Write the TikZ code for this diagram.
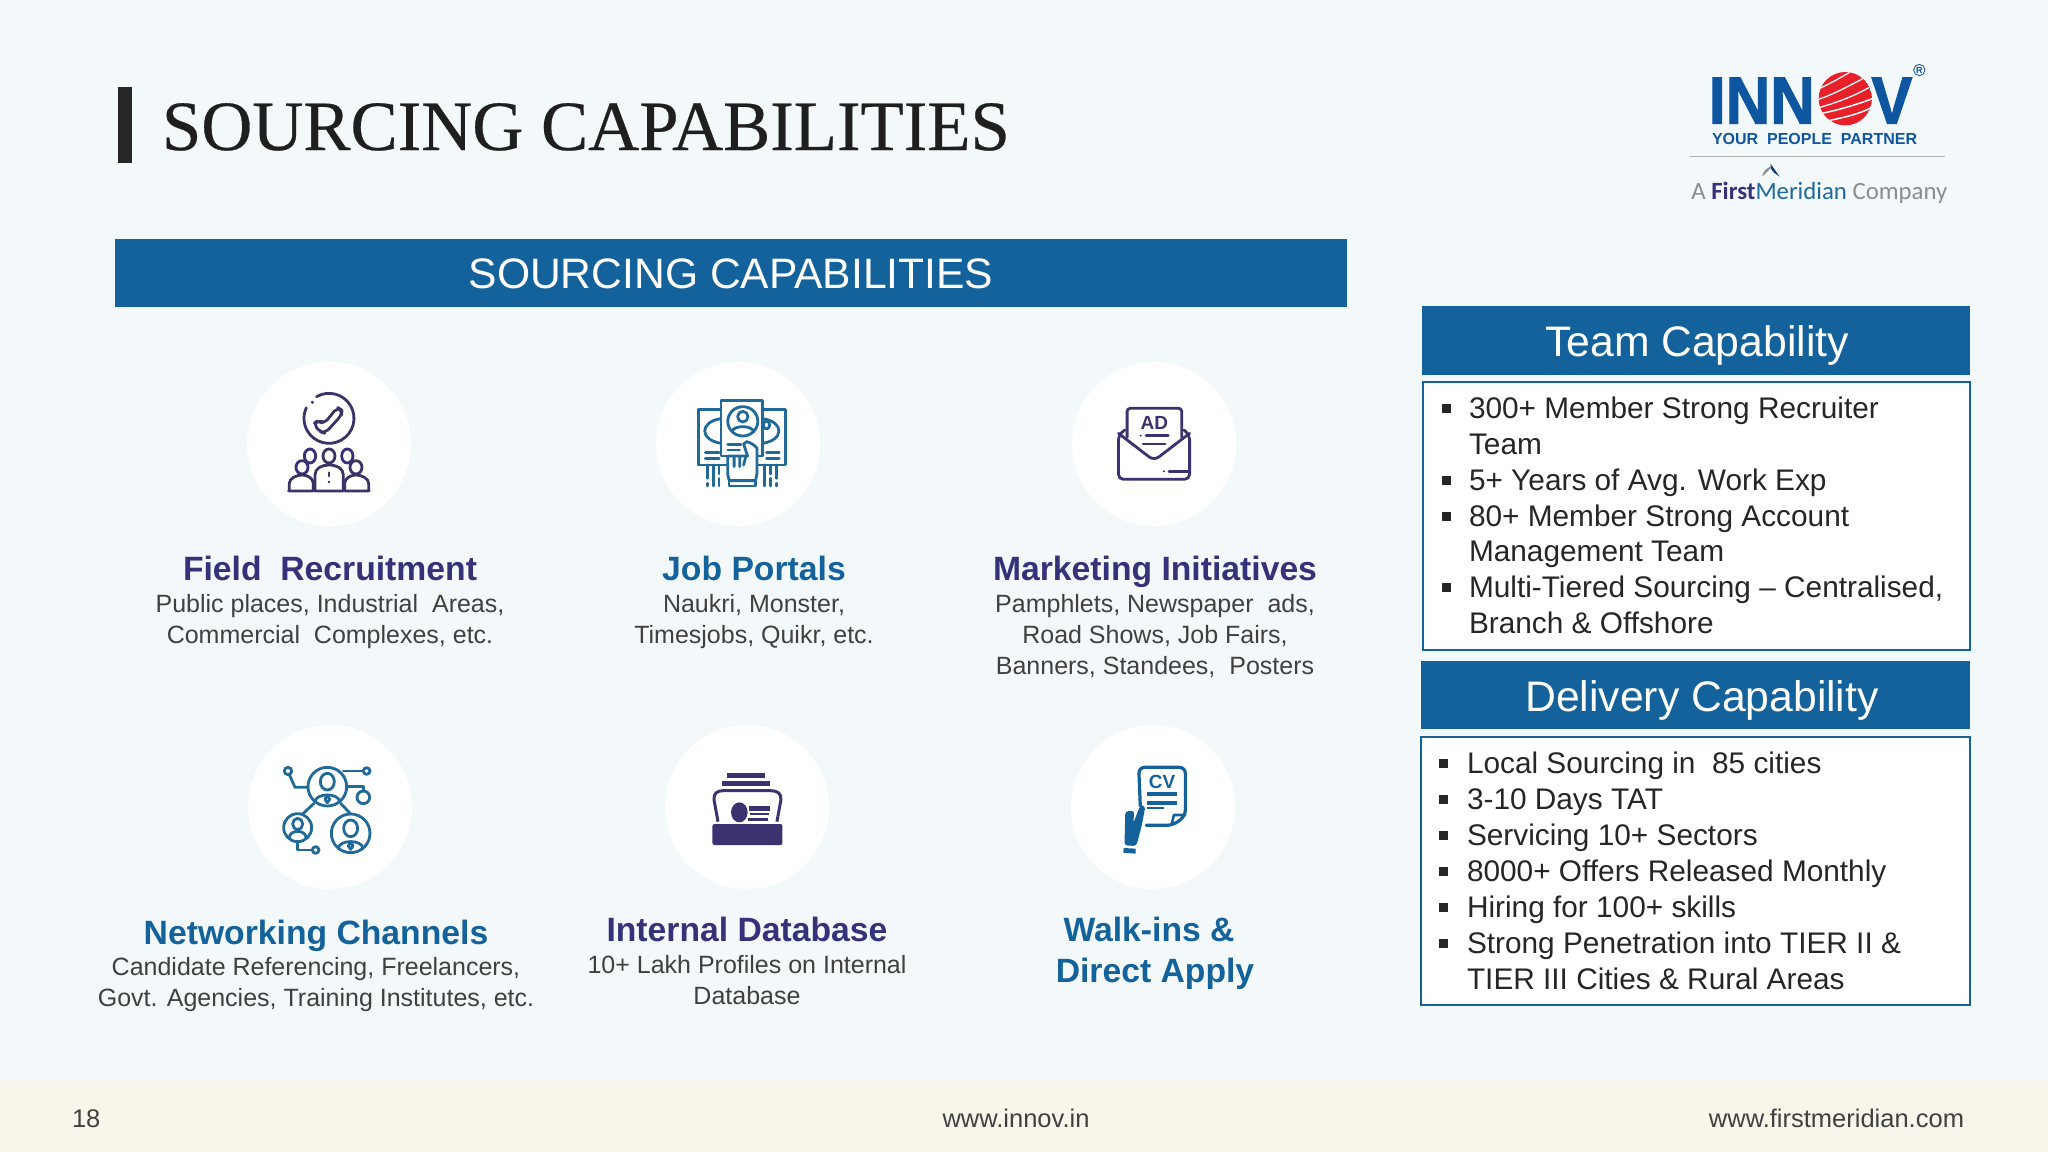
\documentclass[tikz,border=0pt]{standalone}
\usepackage{fontspec}
\setmainfont{Liberation Sans}
\newfontfamily\serifface[FakeBold=0.4]{Liberation Serif}
\newfontfamily\logoface{Carlito}
\newfontfamily\logofat[UprightFont={* Bold},UprightFeatures={FakeBold=1.5,FakeStretch=0.92}]{Liberation Sans}
\definecolor{bgc}{HTML}{F3F8FB}
\definecolor{footc}{HTML}{F8F5EA}
\definecolor{barc}{HTML}{14629B}
\definecolor{navyc}{HTML}{36327A}
\definecolor{inkc}{HTML}{3A3466}
\definecolor{bluec}{HTML}{1F6A99}
\definecolor{deskc}{HTML}{3D3270}
\definecolor{txtc}{HTML}{404040}
\definecolor{logob}{HTML}{0F56A0}
\definecolor{logor}{HTML}{E8202A}
\newcommand{\fs}[1]{\fontsize{#1}{#1}\selectfont}
\tikzset{
  txt/.style={inner sep=0pt,outer sep=0pt,anchor=base},
  ttl/.style={txt,font=\fs{33.7}\bfseries},
  dsc/.style={txt,font=\fs{25},text=txtc},
  itm/.style={txt,anchor=base west,font=\fs{29.8},text=black!85},
  bar/.style={fill=barc,draw=none},
  boxed/.style={draw=barc,line width=1.4pt,fill=white},
  disc/.style={fill=white,draw=none},
  bul/.style={fill=black!85,draw=none},
  ic/.style={line width=2.8pt,line cap=round,line join=round},
}
\newcommand{\bult}[2]{\fill[bul] (#1-4.5,#2-4.5) rectangle (#1+4.5,#2+4.5);}
\begin{document}
\begin{tikzpicture}[x=1pt,y=-1pt]
\useasboundingbox (0,0) rectangle (2048,1152);
\fill[bgc] (0,0) rectangle (2048,1152);
\fill[footc] (0,1079) rectangle (2048,1152);
% title
\fill[black!85] (118,87) rectangle (132,163);
\node[txt,anchor=base west,font=\serifface\fs{70.7},text=black!88] (maintitle) at (162,150) {SOURCING CAPABILITIES};
% header bar
\fill[bar] (115,239) rectangle (1347,307);
\node[txt,font=\fs{42.6},text=white] (hdr) at (731,288) {SOURCING CAPABILITIES};
% discs
\foreach \cx/\cy in {329/444,738/444,1154/444,330/807,747/807,1153/807}
  \fill[disc] (\cx,\cy) circle[radius=82];
% category text
\node[ttl,text=navyc] (t1) at (330,580) {Field\ \ Recruitment};
\node[dsc] (d1a) at (330,612) {Public places, Industrial\ \ Areas,};
\node[dsc] (d1b) at (330,643) {Commercial\ \ Complexes, etc.};
\node[ttl,text=barc] (t2) at (754,580) {Job Portals};
\node[dsc] (d2a) at (754,612) {Naukri, Monster,};
\node[dsc] (d2b) at (754,643) {Timesjobs, Quikr, etc.};
\node[ttl,text=navyc] (t3) at (1155,580) {Marketing Initiatives};
\node[dsc] (d3a) at (1155,612) {Pamphlets, Newspaper\ \ ads,};
\node[dsc] (d3b) at (1155,643) {Road Shows, Job Fairs,};
\node[dsc] (d3c) at (1155,674) {Banners, Standees,\ \ Posters};
\node[ttl,text=barc] (t4) at (316,944) {Networking Channels};
\node[dsc] (d4a) at (316,975) {Candidate Referencing, Freelancers,};
\node[dsc] (d4b) at (316,1006) {Govt. Agencies, Training Institutes, etc.};
\node[ttl,text=navyc] (t5) at (747,941) {Internal Database};
\node[dsc] (d5a) at (747,973) {10+ Lakh Profiles on Internal};
\node[dsc] (d5b) at (747,1004) {Database};
\node[ttl,text=barc] (t6a) at (1149,941) {Walk-ins \&};
\node[ttl,text=barc] (t6b) at (1155,982) {Direct Apply};
% right panels
\fill[bar] (1422,306) rectangle (1970,375);
\node[txt,font=\fs{42.7},text=white] (teamh) at (1697,356) {Team Capability};
\draw[boxed] (1423,382) rectangle (1970,650);
\fill[bar] (1421,661) rectangle (1970,729);
\node[txt,font=\fs{42.7},text=white] (delh) at (1702,711) {Delivery Capability};
\draw[boxed] (1421,737) rectangle (1970,1005);
\bult{1446}{408}\bult{1446}{480}\bult{1446}{516}\bult{1446}{587}
\node[itm] (a1) at (1469,418) {300+ Member Strong Recruiter};
\node[itm] (a2) at (1469,454) {Team};
\node[itm] (a3) at (1469,490) {5+ Years of Avg. Work Exp};
\node[itm] (a4) at (1469,526) {80+ Member Strong Account};
\node[itm] (a5) at (1469,561) {Management Team};
\node[itm] (a6) at (1469,597) {Multi-Tiered Sourcing – Centralised,};
\node[itm] (a7) at (1469,633) {Branch \& Offshore};
\bult{1443}{763}\bult{1443}{799}\bult{1443}{835}\bult{1443}{871}\bult{1443}{907}\bult{1443}{943}
\node[itm] (b1) at (1467,773) {Local Sourcing in\ \ 85 cities};
\node[itm] (b2) at (1467,809) {3-10 Days TAT};
\node[itm] (b3) at (1467,845) {Servicing 10+ Sectors};
\node[itm] (b4) at (1467,881) {8000+ Offers Released Monthly};
\node[itm] (b5) at (1467,917) {Hiring for 100+ skills};
\node[itm] (b6) at (1467,953) {Strong Penetration into TIER II \&};
\node[itm] (b7) at (1467,989) {TIER III Cities \& Rural Areas};
% footer
\node[txt,anchor=base west,font=\fs{25.5},text=txtc] (pg) at (72,1127) {18};
\node[txt,font=\fs{25.5},text=txtc] (f1) at (1016,1127) {www.innov.in};
\node[txt,anchor=base east,font=\fs{25.5},text=txtc] (f2) at (1964,1127) {www.firstmeridian.com};
% logo (zoom coordinates)
\begin{scope}[shift={(1650,40)},x=.3333pt,y=-.3333pt]
  \node[txt,anchor=base west,text=logob,font=\logofat\fs{67}] (inn) at (176,251) {INN};
  \node[txt,anchor=base west,text=logob,font=\logofat\fs{67}] (vv) at (664,251) {V};
  \begin{scope}
    \clip (586,176) circle[radius=80];
    \fill[logor] (586,176) circle[radius=80];
    \draw[white,line width=1.3pt] (500,150) .. controls (540,130) and (570,115) .. (610,90);
    \draw[white,line width=1.3pt] (500,180) .. controls (560,160) and (610,130) .. (650,110);
    \draw[white,line width=1.3pt] (500,205) .. controls (570,185) and (620,165) .. (670,135);
    \draw[white,line width=1.5pt] (505,222) .. controls (570,210) and (630,190) .. (670,175);
    \draw[white,line width=1.5pt] (520,245) .. controls (570,235) and (620,225) .. (660,205);
  \end{scope}
  \draw[logob,line width=.8pt] (808,90) circle[radius=17];
  \node[txt,anchor=center,text=logob,font=\fs{9}\bfseries] (reg) at (808,90) {R};
  \node[txt,anchor=base west,text=logob,font=\fs{16}\bfseries] (tag) at (186,314) {YOUR\ \ PEOPLE\ \ PARTNER};
  \draw[black!30,line width=1pt] (120,350) -- (885,350);
  \fill[logob!70!black] (362,372) -- (389,410) -- (372,398) -- (362,385) -- cycle;
  \fill[black!45] (362,385) -- (336,410) .. controls (340,392) and (350,385) .. (362,380) -- cycle;
  \node[txt,anchor=base west,font=\logoface\fs{24.8}] (fm) at (124,478)
    {\textcolor{black!45}{A} \textcolor{navyc}{\bfseries First}\textcolor{bluec}{Meridian} \textcolor{black!45}{Company}};
\end{scope}
% field icon
\begin{scope}[shift={(230,350)},x=.3333pt,y=-.3333pt,ic,draw=inkc]
  \draw (297,205) ++(240:75) arc[start angle=240,end angle=565,radius=75];
  \fill[inkc] (247,157) circle[radius=5];
  \draw[rounded corners=5pt] (250,222) -- (265,210) -- (282,222) -- (322,172) -- (336,180) -- (335,195) -- (285,250) -- (270,245) -- cycle;
  \draw[navyc,fill=white] (240,318) ellipse[x radius=17,y radius=21];
  \draw[navyc,fill=white] (352,318) ellipse[x radius=17,y radius=21];
  \draw[navyc,fill=white] (216,352) ellipse[x radius=18,y radius=20];
  \draw[fill=white] (378,352) ellipse[x radius=18,y radius=20];
  \draw[fill=white] (178,423) -- (178,400) .. controls (178,385) and (200,375) .. (216,375) .. controls (232,375) and (250,385) .. (250,400) -- (250,423) -- cycle;
  \draw[fill=white] (344,423) -- (344,400) .. controls (344,385) and (362,375) .. (378,375) .. controls (394,375) and (416,385) .. (416,400) -- (416,423) -- cycle;
  \draw[fill=white] (297,318) ellipse[x radius=18,y radius=21];
  \draw[fill=white] (255,423) -- (255,375) .. controls (255,355) and (275,345) .. (297,345) .. controls (320,345) and (340,355) .. (340,375) -- (340,423) -- cycle;
  \draw (175,423) -- (418,423);
  \draw (297,368) -- (297,378);
  \fill[inkc] (297,396) circle[radius=4];
\end{scope}
% job portals icon
\begin{scope}[shift={(640,350)},x=.3954pt,y=-.3333pt,ic,draw=bluec]
  \draw[line cap=butt] (147,345) -- (147,178) -- (205,178);
  \draw[line cap=butt] (367,345) -- (367,178) -- (310,178);
  \draw (147,345) -- (222,345);
  \draw (296,345) -- (367,345);
  \draw (205,206) .. controls (150,215) and (150,270) .. (205,280);
  \draw (310,206) .. controls (365,215) and (365,270) .. (310,280);
  \draw (320,225) ellipse[x radius=8,y radius=12];
  \draw (165,308) -- (200,308) (165,325) -- (200,325);
  \draw (320,308) -- (352,308) (320,325) -- (352,325);
  \draw[fill=white] (205,152) rectangle (310,318);
  \draw (260,214) ellipse[x radius=38,y radius=44];
  \draw (260,200) ellipse[x radius=13,y radius=16];
  \draw (233,245) .. controls (235,225) and (285,225) .. (287,245);
  \draw (222,283) -- (255,283) (222,300) -- (252,300);
  \draw[fill=white] (222,318) -- (222,375) -- (226,392) -- (292,392) -- (296,370) -- (296,295) .. controls (290,285) and (280,278) .. (270,275) -- (262,282) -- (272,318) -- cycle;
  \draw (238,322) -- (238,350) (252,322) -- (252,350) (267,322) -- (262,345);
  \draw (225,392) rectangle (292,408);
  \draw (170,345) -- (170,385) (170,400) -- (170,408);
  \draw (185,345) -- (185,408);
  \draw (200,345) -- (200,372) (200,385) -- (200,408);
  \draw (315,345) -- (315,408);
  \draw (330,345) -- (330,372) (330,385) -- (330,408);
  \draw (345,345) -- (345,385) (345,400) -- (345,408);
\end{scope}
% marketing icon
\begin{scope}[shift={(640,350)},x=.3954pt,y=-.3333pt,ic,draw=deskc]
  \draw[rounded corners=3pt] (1232,262) -- (1232,175) -- (1370,175) -- (1370,262);
  \draw[rounded corners=5pt] (1226,240) -- (1210,256) -- (1210,388) -- (1390,388) -- (1390,256) -- (1376,240);
  \draw[rounded corners=6pt] (1210,250) -- (1300,332) -- (1390,250);
  \node[txt,anchor=center,text=deskc,font=\fs{19}\bfseries] (adt) at (1301,220) {AD};
  \draw (1280,257) -- (1336,257) (1272,282) -- (1328,282) (1338,364) -- (1385,364);
  \fill[deskc] (1266,257) circle[radius=3] (1325,364) circle[radius=3];
\end{scope}
% networking icon
\begin{scope}[shift={(230,720)},x=.3333pt,y=-.3333pt,ic,draw=bluec]
  \draw (292,200) circle[radius=58];
  \draw (203,323) circle[radius=42];
  \draw (362,340) circle[radius=58];
  \draw (174,153) circle[radius=11];
  \draw (410,153) circle[radius=10];
  \draw (400,232) circle[radius=19];
  \draw (257,390) circle[radius=10];
  \draw (178,164) -- (195,202) -- (234,202);
  \draw (340,153) -- (400,153);
  \draw (350,200) -- (400,200) -- (400,213);
  \draw (252,250) -- (218,282);
  \draw (332,250) -- (362,282);
  \draw (203,365) -- (203,390) -- (247,390);
  \draw (292,185) ellipse[x radius=21,y radius=25];
  \draw (255,245) .. controls (258,218) and (326,218) .. (329,245);
  \draw (292,226) -- (285,238) -- (292,248) -- (299,238) -- cycle;
  \draw (362,325) ellipse[x radius=21,y radius=25];
  \draw (325,385) .. controls (328,358) and (396,358) .. (399,385);
  \draw (362,366) -- (355,378) -- (362,388) -- (369,378) -- cycle;
  \draw (203,312) ellipse[x radius=15,y radius=17];
  \draw (178,352) .. controls (180,328) and (226,328) .. (228,352);
\end{scope}
% database icon
\begin{scope}[shift={(650,720)},x=.3954pt,y=-.3333pt,ic]
  \fill[deskc] (195,159) rectangle (291,174);
  \fill[deskc] (183,183) rectangle (303,197);
  \draw[deskc,line width=3pt,line cap=butt] (172,305) -- (162,240) .. controls (160,220) and (170,212) .. (185,212) -- (305,212) .. controls (322,212) and (333,220) .. (331,240) -- (321,305);
  \fill[deskc,rounded corners=2pt] (158,312) rectangle (335,375);
  \fill[deskc] (226,277) ellipse[x radius=21,y radius=30];
  \fill[deskc] (250,258) rectangle (303,272);
  \fill[deskc] (252,278) rectangle (300,286);
  \fill[deskc] (248,294) rectangle (298,304);
\end{scope}
% walk-in icon
\begin{scope}[shift={(650,720)},x=.3954pt,y=-.3333pt,ic,draw=barc]
  \draw[line width=3.2pt,rounded corners=6pt] (1240,258) -- (1236,142) -- (1354,142) -- (1354,288) -- (1322,316) -- (1255,316);
  \draw[line width=2.6pt] (1354,285) -- (1325,285) -- (1320,310);
  \node[txt,anchor=center,text=barc,font=\fs{19}\bfseries] (cvt) at (1295,186) {CV};
  \fill[barc] (1256,217) rectangle (1332,227);
  \fill[barc] (1256,243) rectangle (1332,255);
  \fill[barc] (1256,262) rectangle (1300,268);
  \fill[barc,rounded corners=3pt] (1202,274) -- (1225,272) -- (1222,310) -- (1240,256) -- (1253,258) -- (1243,320) -- (1230,378) -- (1200,376) -- cycle;
  \fill[barc] (1198,384) -- (1228,386) -- (1228,401) -- (1197,398) -- cycle;
\end{scope}
\end{tikzpicture}
\end{document}
